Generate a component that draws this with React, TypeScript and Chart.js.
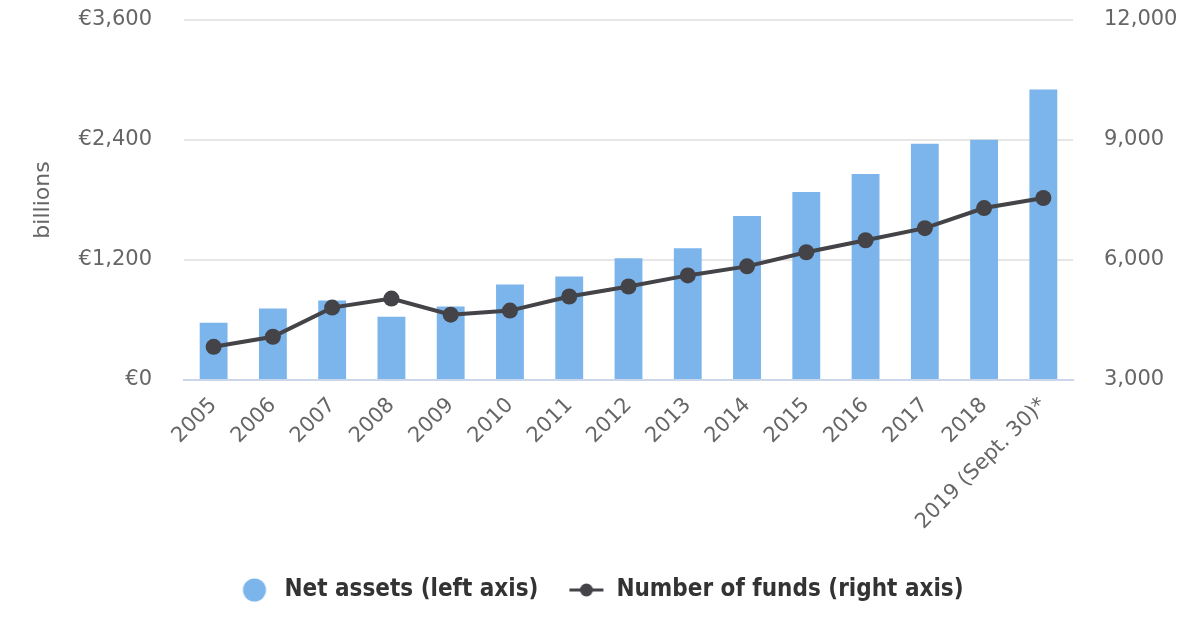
import React, { useEffect, useRef } from "react";
import { Chart, registerables } from "chart.js";

Chart.register(...registerables);

const categories = [
  "2005", "2006", "2007", "2008", "2009", "2010", "2011", "2012",
  "2013", "2014", "2015", "2016", "2017", "2018", "2019 (Sept. 30)*",
];
const netAssets = [573, 714, 794, 633, 734, 955, 1036, 1217, 1317, 1639, 1880, 2061, 2363, 2403, 2906];
const numberOfFunds = [3830, 4081, 4810, 5036, 4634, 4735, 5087, 5338, 5615, 5841, 6193, 6494, 6796, 7299, 7550];
const leftTicks = [0, 1200, 2400, 3600];
const rightTicks = [3000, 6000, 9000, 12000];

const BAR_COLOR = "#7cb5ec";
const LINE_COLOR = "#434348";
const FONT = "'DejaVu Sans'";

function makeSymbol(kind: "circle" | "line"): HTMLCanvasElement {
  const c = document.createElement("canvas");
  c.width = 36;
  c.height = 24;
  const ctx = c.getContext("2d")!;
  if (kind === "circle") {
    ctx.fillStyle = BAR_COLOR;
    ctx.beginPath();
    ctx.arc(18, 12, 11.5, 0, Math.PI * 2);
    ctx.fill();
  } else {
    ctx.strokeStyle = LINE_COLOR;
    ctx.lineWidth = 3;
    ctx.beginPath();
    ctx.moveTo(1, 12);
    ctx.lineTo(35, 12);
    ctx.stroke();
    ctx.fillStyle = LINE_COLOR;
    ctx.beginPath();
    ctx.arc(18, 12, 6.5, 0, Math.PI * 2);
    ctx.fill();
  }
  return c;
}

export default function App() {
  const ref = useRef<HTMLCanvasElement | null>(null);
  useEffect(() => {
    document.body.style.margin = "0";
    const canvas = ref.current!;
    const circleSym = makeSymbol("circle");
    const lineSym = makeSymbol("line");
    const chart = new Chart(canvas, {
      type: "bar",
      data: {
        labels: categories,
        datasets: [
          {
            type: "line",
            label: "Number of funds (right axis)",
            data: numberOfFunds,
            yAxisID: "y1",
            borderColor: LINE_COLOR,
            backgroundColor: LINE_COLOR,
            borderWidth: 4,
            pointRadius: 8,
            pointHoverRadius: 8,
            pointBackgroundColor: LINE_COLOR,
            pointBorderWidth: 0,
            tension: 0,
            order: 0,
          } as any,
          {
            type: "bar",
            label: "Net assets (left axis)",
            data: netAssets,
            yAxisID: "y",
            backgroundColor: BAR_COLOR,
            borderWidth: 0,
            barPercentage: 0.94,
            categoryPercentage: 0.5,
            order: 1,
          } as any,
        ],
      },
      options: {
        responsive: false,
        animation: false,
        devicePixelRatio: 1,
        layout: { padding: { top: 20, left: 0, right: 0, bottom: 18 } },
        plugins: {
          tooltip: { enabled: false },
          legend: {
            display: true,
            position: "bottom",
            reverse: true,
            labels: {
              usePointStyle: true,
              pointStyleWidth: 36,
              color: "#333333",
              font: { family: "'DejaVu Sans Condensed', 'DejaVu Sans'", size: 24, weight: "bold" },
              padding: 30,
              generateLabels: (ch: any) => {
                const items = Chart.defaults.plugins.legend.labels.generateLabels(ch);
                return items.map((it: any) => ({
                  ...it,
                  pointStyle: it.datasetIndex === 0 ? lineSym : circleSym,
                }));
              },
            },
          },
        },
        scales: {
          x: {
            grid: { display: false, drawTicks: false },
            border: { display: true, color: "#ccd6eb", width: 2 },
            ticks: {
              color: "#666666",
              font: { family: FONT, size: 21 },
              minRotation: 45,
              maxRotation: 45,
              autoSkip: false,
              padding: 13,
            },
            afterFit: (s: any) => {
              s.height = 168;
            },
          },
          y: {
            position: "left",
            min: 0,
            max: 3600,
            afterBuildTicks: (s: any) => {
              s.ticks = leftTicks.map((v) => ({ value: v }));
            },
            grid: { color: "#e6e6e6", lineWidth: 2, drawTicks: false },
            border: { display: false },
            ticks: {
              color: "#666666",
              font: { family: FONT, size: 21 },
              padding: 32,
              callback: (v: any) => "€" + Number(v).toLocaleString("en-US"),
            },
            title: {
              display: true,
              text: "billions",
              color: "#666666",
              font: { family: FONT, size: 22 },
              padding: { top: 30, bottom: 0 },
            },
            afterFit: (s: any) => {
              s.width = 184;
              s.paddingTop = 0;
            },
          },
          y1: {
            position: "right",
            min: 3000,
            max: 12000,
            afterBuildTicks: (s: any) => {
              s.ticks = rightTicks.map((v) => ({ value: v }));
            },
            grid: { display: false, drawTicks: false },
            border: { display: false },
            ticks: {
              color: "#666666",
              font: { family: FONT, size: 21 },
              padding: 31,
              callback: (v: any) => Number(v).toLocaleString("en-US"),
            },
            afterFit: (s: any) => {
              s.width = 127;
              s.paddingTop = 0;
            },
          },
        },
      } as any,
    });
    return () => chart.destroy();
  }, []);
  return (
    <div style={{ width: 1200, height: 630, background: "#fff" }}>
      <canvas ref={ref} width={1200} height={630} />
    </div>
  );
}
